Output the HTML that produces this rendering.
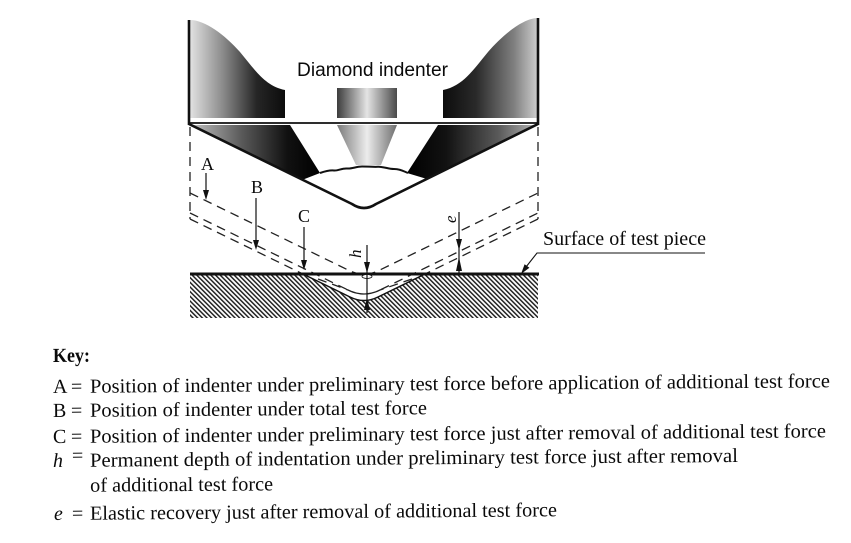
<!DOCTYPE html>
<html>
<head>
<meta charset="utf-8">
<style>
html,body{margin:0;padding:0;background:#fff;}
svg{display:block;}
text{font-family:"Liberation Serif","DejaVu Serif",serif;fill:#0a0a0a;}
text.sans{font-family:"Liberation Sans","DejaVu Sans",sans-serif;}
</style>
</head>
<body>
<svg width="851" height="543" viewBox="0 0 851 543" xmlns="http://www.w3.org/2000/svg">
<defs>
  <linearGradient id="gUL" gradientUnits="userSpaceOnUse" x1="190" y1="0" x2="285" y2="0">
    <stop offset="0" stop-color="#e2e2e2"/>
    <stop offset="0.35" stop-color="#8a8a8a"/>
    <stop offset="0.7" stop-color="#262626"/>
    <stop offset="1" stop-color="#0c0c0c"/>
  </linearGradient>
  <linearGradient id="gUR" gradientUnits="userSpaceOnUse" x1="443" y1="0" x2="538" y2="0">
    <stop offset="0" stop-color="#0c0c0c"/>
    <stop offset="0.35" stop-color="#2a2a2a"/>
    <stop offset="0.75" stop-color="#808080"/>
    <stop offset="1" stop-color="#cfcfcf"/>
  </linearGradient>
  <linearGradient id="gUC" gradientUnits="userSpaceOnUse" x1="337" y1="0" x2="397" y2="0">
    <stop offset="0" stop-color="#3c3c3c"/>
    <stop offset="0.5" stop-color="#e4e4e4"/>
    <stop offset="1" stop-color="#4a4a4a"/>
  </linearGradient>
  <linearGradient id="gLL" gradientUnits="userSpaceOnUse" x1="189" y1="0" x2="320" y2="0">
    <stop offset="0" stop-color="#c4c4c4"/>
    <stop offset="0.4" stop-color="#5a5a5a"/>
    <stop offset="0.75" stop-color="#111"/>
    <stop offset="1" stop-color="#000"/>
  </linearGradient>
  <linearGradient id="gLR" gradientUnits="userSpaceOnUse" x1="407" y1="0" x2="538" y2="0">
    <stop offset="0" stop-color="#000"/>
    <stop offset="0.3" stop-color="#121212"/>
    <stop offset="0.7" stop-color="#5a5a5a"/>
    <stop offset="1" stop-color="#b8b8b8"/>
  </linearGradient>
  <linearGradient id="gLC" gradientUnits="userSpaceOnUse" x1="337" y1="0" x2="397" y2="0">
    <stop offset="0" stop-color="#7a7a7a"/>
    <stop offset="0.5" stop-color="#ececec"/>
    <stop offset="1" stop-color="#6e6e6e"/>
  </linearGradient>
  <pattern id="hatch" width="3.3" height="3.3" patternUnits="userSpaceOnUse" patternTransform="rotate(-45)">
    <rect width="3.3" height="3.3" fill="#fff"/>
    <rect x="0" y="0" width="1.5" height="3.3" fill="#222"/>
  </pattern>
</defs>

<!-- Upper indenter holder -->
<path d="M190,20 C205,20 225,35 240,52 C255,70 265,86 285,90 L285,118 L190,118 Z" fill="url(#gUL)"/>
<path d="M538,18 C523,18 503,35 488,52 C473,70 463,86 443,90 L443,118 L538,118 Z" fill="url(#gUR)"/>
<rect x="337" y="88" width="60" height="30" fill="url(#gUC)"/>

<line x1="189" y1="20" x2="189" y2="125" stroke="#111" stroke-width="2.6"/>
<line x1="538" y1="18" x2="538" y2="125" stroke="#111" stroke-width="2.6"/>
<line x1="189" y1="123" x2="538" y2="123" stroke="#111" stroke-width="1.8"/>

<text class="sans" x="297" y="76" font-size="19" textLength="151" lengthAdjust="spacingAndGlyphs">Diamond indenter</text>

<!-- Lower cone part -->
<polygon points="189,125 290,125 320,173 302,180" fill="url(#gLL)"/>
<polygon points="438,125 538,125 427,179 407,173" fill="url(#gLR)"/>
<polygon points="337,125 397,125 381,165 356,165" fill="url(#gLC)"/>
<path d="M320,173 C326,171 330,170 334,170.5 C338,171 342,168 347,168.5 C352,169 356,166.5 362,166.5 C368,166.5 372,167 378,166.8 C384,166.6 388,169 394,169 C400,169 403,171 408,173" fill="none" stroke="#111" stroke-width="2"/>
<path d="M189,124 L352,204 Q364,212 376,204 L538,124" fill="none" stroke="#111" stroke-width="2.6" stroke-linejoin="round"/>

<!-- dashed lines -->
<g stroke="#222" stroke-width="1.3" fill="none" stroke-dasharray="9 6">
  <path d="M190,127 L190,219"/>
  <path d="M538,127 L538,219"/>
  <path d="M190,193 L350,270.9 Q364,277.7 378,270.9 L538,193"/>
  <path d="M190,213 L348,290 Q364,298 380,290 L538,213"/>
  <path d="M190,219 L305,275"/>
  <path d="M538,219 L423,275"/>
</g>

<!-- hatched test piece -->
<path d="M190,275 L305,275 L350,297 Q364,304 378,297 L423,275 L538,275 L538,318 L190,318 Z" fill="url(#hatch)"/>
<path d="M305,275 L350,297 Q364,304 378,297 L423,275" fill="none" stroke="#111" stroke-width="1.5"/>
<path d="M318,279 L348,290 Q364,298 380,290 L412,279" fill="none" stroke="#222" stroke-width="1.3" stroke-dasharray="9 6"/>
<line x1="190" y1="274" x2="539" y2="274" stroke="#111" stroke-width="3"/>
<ellipse cx="367" cy="276.5" rx="5" ry="2" fill="#fff" stroke="#111" stroke-width="0.8"/>

<!-- A B C labels with arrows -->
<text x="201" y="170" font-size="18">A</text>
<line x1="206" y1="173" x2="206" y2="192" stroke="#111" stroke-width="1.2"/>
<polygon points="203,190 209,190 206,200" fill="#111"/>
<text x="251" y="193" font-size="18">B</text>
<line x1="256" y1="198" x2="256" y2="242" stroke="#111" stroke-width="1.2"/>
<polygon points="253,240 259,240 256,250" fill="#111"/>
<text x="298" y="222" font-size="18">C</text>
<line x1="304" y1="227" x2="304" y2="262" stroke="#111" stroke-width="1.2"/>
<polygon points="301,260 307,260 304,270" fill="#111"/>

<!-- h -->
<line x1="367" y1="245" x2="367" y2="313" stroke="#111" stroke-width="1.2"/>
<polygon points="364,262 370,262 367,273" fill="#111"/>
<polygon points="364,310 370,310 367,298" fill="#111"/>
<text x="0" y="0" font-size="17" font-style="italic" transform="translate(361,258) rotate(-90)">h</text>

<!-- e -->
<line x1="459" y1="212" x2="459" y2="273" stroke="#111" stroke-width="1.2"/>
<polygon points="456,239 462,239 459,250" fill="#111"/>
<polygon points="456,271 462,271 459,257" fill="#111"/>
<text x="0" y="0" font-size="17" font-style="italic" transform="translate(456,223) rotate(-90)">e</text>

<!-- surface label -->
<text x="543" y="245" font-size="19.5" textLength="163" lengthAdjust="spacingAndGlyphs">Surface of test piece</text>
<path d="M705,253 L537,253 L526,267" fill="none" stroke="#111" stroke-width="1.1"/>
<polygon points="521,274 529.4,267.8 524.6,264.2" fill="#111"/>

<!-- Key -->
<g transform="rotate(-0.42 53 362)">
  <text x="53" y="362" font-size="20" font-weight="bold" textLength="37" lengthAdjust="spacingAndGlyphs">Key:</text>
</g>
<g transform="rotate(-0.42 53 393)">
  <text x="53" y="393" font-size="20">A</text>
  <text x="71" y="393" font-size="20">=</text>
  <text x="90" y="393" font-size="20" textLength="740" lengthAdjust="spacingAndGlyphs">Position of indenter under preliminary test force before application of additional test force</text>
</g>
<g transform="rotate(-0.42 53 417)">
  <text x="53" y="417" font-size="20">B</text>
  <text x="71" y="417" font-size="20">=</text>
  <text x="90" y="417" font-size="20" textLength="337" lengthAdjust="spacingAndGlyphs">Position of indenter under total test force</text>
</g>
<g transform="rotate(-0.42 53 443)">
  <text x="53" y="443" font-size="20">C</text>
  <text x="71" y="443" font-size="20">=</text>
  <text x="90" y="443" font-size="20" textLength="736" lengthAdjust="spacingAndGlyphs">Position of indenter under preliminary test force just after removal of additional test force</text>
</g>
<g transform="rotate(-0.42 53 467)">
  <text x="53" y="467" font-size="20" font-style="italic">h</text>
  <text x="72" y="462" font-size="20">=</text>
  <text x="90" y="467" font-size="20" textLength="648" lengthAdjust="spacingAndGlyphs">Permanent depth of indentation under preliminary test force just after removal</text>
  <text x="90" y="492" font-size="20" textLength="183" lengthAdjust="spacingAndGlyphs">of additional test force</text>
</g>
<g transform="rotate(-0.42 53 520)">
  <text x="54" y="520" font-size="20" font-style="italic">e</text>
  <text x="72" y="520" font-size="20">=</text>
  <text x="90" y="520" font-size="20" textLength="467" lengthAdjust="spacingAndGlyphs">Elastic recovery just after removal of additional test force</text>
</g>
</svg>
</body>
</html>
